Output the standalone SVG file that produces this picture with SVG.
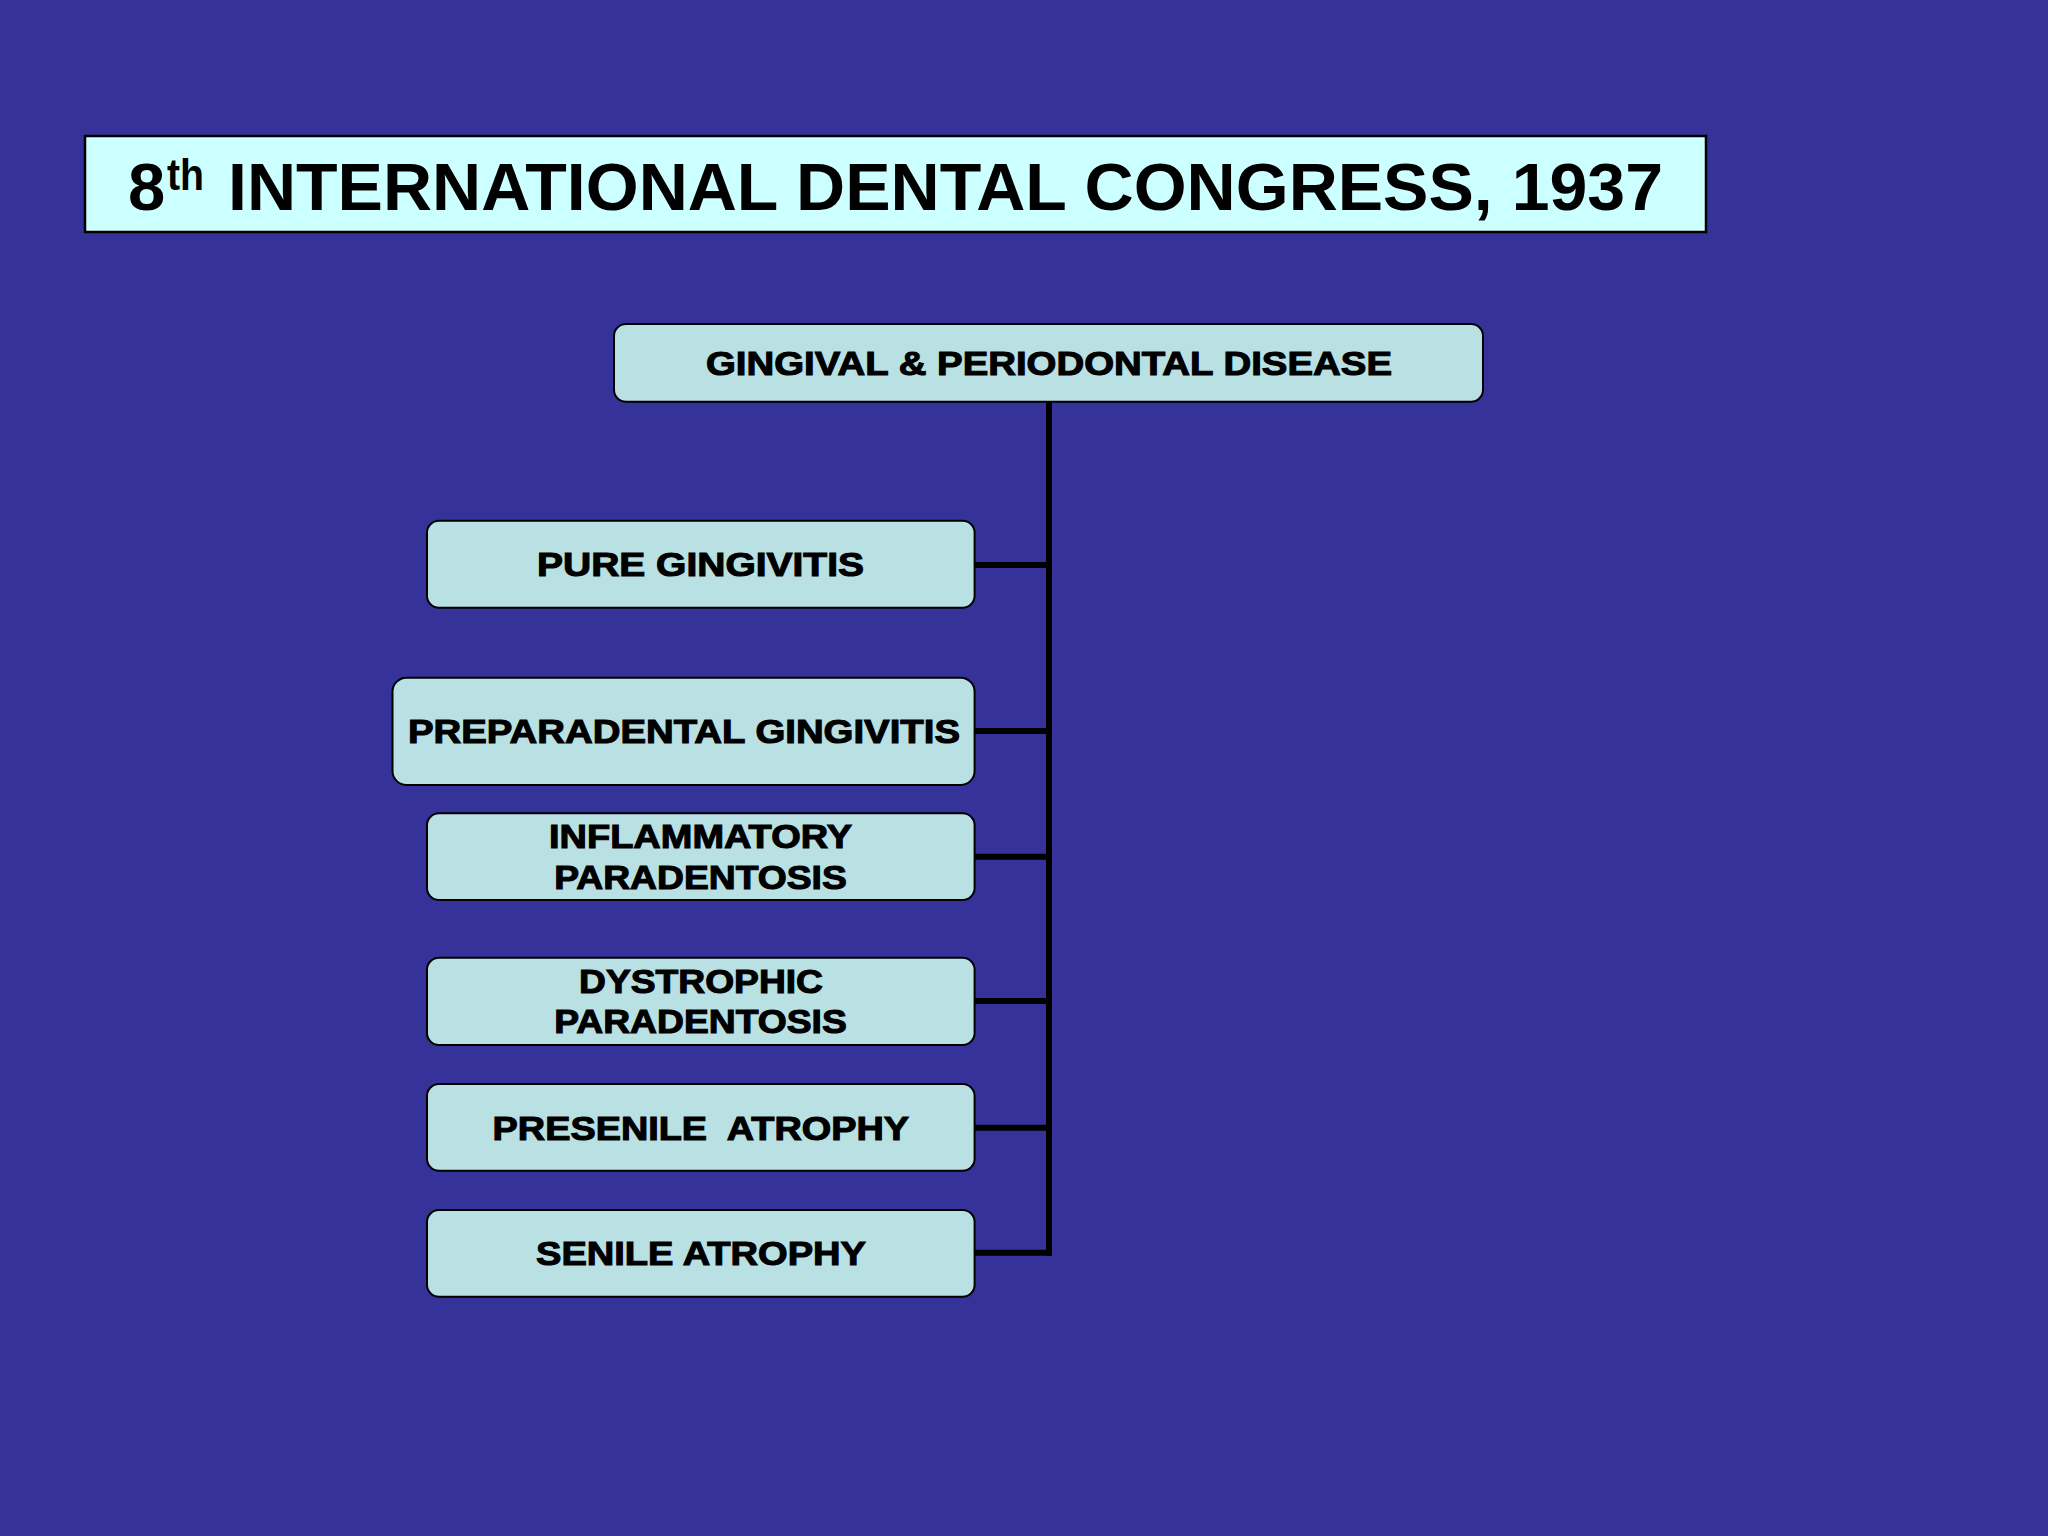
<svg xmlns="http://www.w3.org/2000/svg" width="2048" height="1536" viewBox="0 0 2048 1536">
<style>
.node rect{fill:#B9E0E3;stroke:#000;stroke-width:2}
.lbl{font-family:"Liberation Sans",Arial,sans-serif;font-weight:bold;font-size:34px;fill:#000;stroke:#000;stroke-width:1.1;text-anchor:middle;white-space:pre}
.conn{stroke:#000;stroke-width:6;fill:none}
.title{font-family:"Liberation Sans",Arial,sans-serif;font-weight:bold;fill:#000}
</style>
<rect x="0" y="0" width="2048" height="1536" fill="#35339A"/>
<g id="title">
<rect x="85" y="136" width="1621" height="96" fill="#CCFFFF" stroke="#000" stroke-width="2.5"/>
<text class="title" y="210" font-size="67"><tspan x="128">8</tspan><tspan x="167" y="190" font-size="45" textLength="37" lengthAdjust="spacingAndGlyphs">th</tspan><tspan x="228" y="210" font-size="67.3" textLength="1435" lengthAdjust="spacingAndGlyphs">INTERNATIONAL DENTAL CONGRESS, 1937</tspan></text>
</g>
<g id="connectors">
<path class="conn" d="M1049 401 V1255.7"/>
<path class="conn" d="M975 565 H1052"/>
<path class="conn" d="M975 731 H1052"/>
<path class="conn" d="M975 856.7 H1052"/>
<path class="conn" d="M975 1001 H1052"/>
<path class="conn" d="M975 1127.7 H1052"/>
<path class="conn" d="M975 1252.7 H1052"/>
</g>
<g id="root" class="node">
<rect x="614" y="324" width="869" height="77.7" rx="12"/>
<text class="lbl" x="1049" y="375" font-size="35" textLength="686" lengthAdjust="spacingAndGlyphs">GINGIVAL &amp; PERIODONTAL DISEASE</text>
</g>
<g id="pure-gingivitis" class="node">
<rect x="427" y="520.7" width="547.6" height="87" rx="12"/>
<text class="lbl" x="700.5" y="576" textLength="327" lengthAdjust="spacingAndGlyphs">PURE GINGIVITIS</text>
</g>
<g id="preparadental-gingivitis" class="node">
<rect x="392.5" y="677.7" width="582.1" height="107.3" rx="14"/>
<text class="lbl" x="684" y="742.7" textLength="552" lengthAdjust="spacingAndGlyphs">PREPARADENTAL GINGIVITIS</text>
</g>
<g id="inflammatory-paradentosis" class="node">
<rect x="427" y="813.3" width="547.6" height="86.7" rx="12"/>
<text class="lbl" x="700.5" y="848.3" textLength="303" lengthAdjust="spacingAndGlyphs">INFLAMMATORY</text>
<text class="lbl" x="700.5" y="889.3" textLength="292.5" lengthAdjust="spacingAndGlyphs">PARADENTOSIS</text>
</g>
<g id="dystrophic-paradentosis" class="node">
<rect x="427" y="957.7" width="547.6" height="87.3" rx="12"/>
<text class="lbl" x="701" y="993.3" textLength="244" lengthAdjust="spacingAndGlyphs">DYSTROPHIC</text>
<text class="lbl" x="700.5" y="1033.3" textLength="292.5" lengthAdjust="spacingAndGlyphs">PARADENTOSIS</text>
</g>
<g id="presenile-atrophy" class="node">
<rect x="427" y="1084" width="547.6" height="86.7" rx="12"/>
<text class="lbl" x="700.8" y="1140" textLength="416.5" lengthAdjust="spacingAndGlyphs" xml:space="preserve">PRESENILE  ATROPHY</text>
</g>
<g id="senile-atrophy" class="node">
<rect x="427" y="1210" width="547.6" height="86.7" rx="12"/>
<text class="lbl" x="701" y="1265" textLength="330" lengthAdjust="spacingAndGlyphs">SENILE ATROPHY</text>
</g>
</svg>
